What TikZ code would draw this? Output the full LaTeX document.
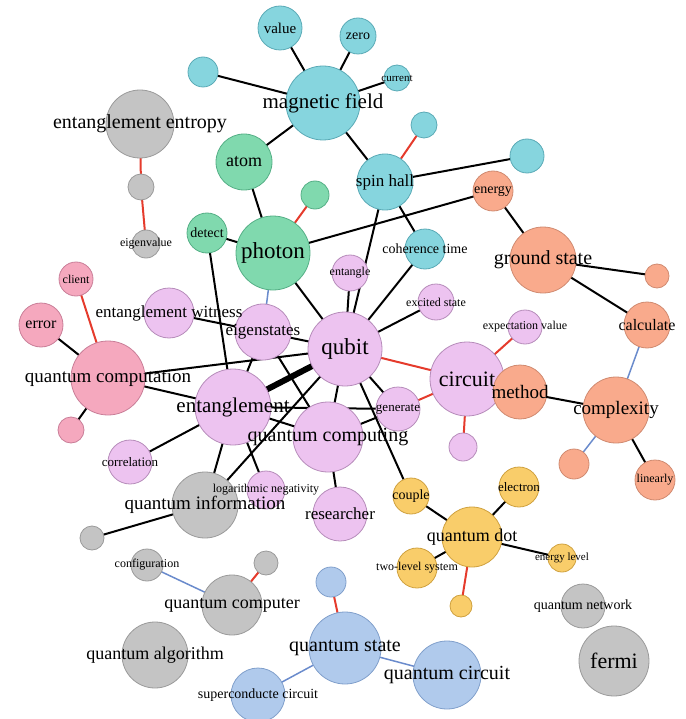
\documentclass[tikz,border=0pt]{standalone}
\usepackage{fontspec}
\setmainfont{Liberation Serif}
\usetikzlibrary{backgrounds}
\pgfdeclarelayer{fg}
\pgfsetlayers{background,main,fg}
\definecolor{cyF}{HTML}{86D5DE}\definecolor{cyD}{HTML}{5AAAB6}
\definecolor{grF}{HTML}{80D9AE}\definecolor{grD}{HTML}{55AF86}
\definecolor{orF}{HTML}{F9AA8C}\definecolor{orD}{HTML}{D08A70}
\definecolor{pkF}{HTML}{F5A8BE}\definecolor{pkD}{HTML}{C97E98}
\definecolor{viF}{HTML}{EDC3F0}\definecolor{viD}{HTML}{B68CBA}
\definecolor{gyF}{HTML}{C4C4C4}\definecolor{gyD}{HTML}{9A9A9A}
\definecolor{yeF}{HTML}{F9CD6A}\definecolor{yeD}{HTML}{CFA13F}
\definecolor{blF}{HTML}{B0CAEC}\definecolor{blD}{HTML}{809FCB}
\definecolor{redE}{HTML}{E53B2C}\definecolor{bluE}{HTML}{6A8BCC}
\tikzset{
 nd/.style={circle,inner sep=0pt,line width=0.8pt},
 cy/.style={nd,fill=cyF,draw=cyD}, gr/.style={nd,fill=grF,draw=grD},
 or/.style={nd,fill=orF,draw=orD}, pk/.style={nd,fill=pkF,draw=pkD},
 vi/.style={nd,fill=viF,draw=viD}, gy/.style={nd,fill=gyF,draw=gyD},
 ye/.style={nd,fill=yeF,draw=yeD}, bl/.style={nd,fill=blF,draw=blD},
 ed/.style={line width=2pt,black}, re/.style={line width=2pt,redE},
 be/.style={line width=1.5pt,bluE},
 lb/.style={inner sep=0pt,text=black}
}
\newcommand{\N}[7]{\node[#5,minimum size=#4*2pt] (#1) at (#2,#3) {};
 \begin{pgfonlayer}{fg}\node[lb,font=\fontsize{#7}{#7}\selectfont] (#1-t) at (#2,#3) {#6};\end{pgfonlayer}}
\begin{document}
\begin{tikzpicture}[x=1pt,y=-1pt]
\useasboundingbox (0,0) rectangle (685,719);
\N{value}{280}{28}{22}{cy}{value}{15}
\N{zero}{358}{36}{18}{cy}{zero}{14}
\N{c1}{203}{72}{15}{cy}{}{1}
\N{mf}{323}{103}{37}{cy}{magnetic field}{21}
\N{current}{397}{78}{13}{cy}{current}{11}
\N{c2}{424}{125}{13}{cy}{}{1}
\N{sh}{385}{182}{28}{cy}{spin hall}{17}
\N{c3}{527}{156}{17}{cy}{}{1}
\N{ct}{425}{249}{20}{cy}{coherence time}{14}
\N{atom}{244}{162}{28}{gr}{atom}{18}
\N{g1}{315}{195}{14}{gr}{}{1}
\N{detect}{207}{233}{20}{gr}{detect}{14}
\N{photon}{273}{253}{37}{gr}{photon}{23}
\N{energy}{493}{191}{20}{or}{energy}{14}
\N{gs}{543}{260}{33}{or}{ground state}{20}
\N{o1}{657}{276}{12}{or}{}{1}
\N{calc}{647}{325}{23}{or}{calculate}{16}
\N{cx}{616}{410}{33}{or}{complexity}{19}
\N{o2}{574}{464}{15}{or}{}{1}
\N{lin}{655}{480}{20}{or}{linearly}{12}
\N{client}{76}{279}{17}{pk}{client}{12}
\N{error}{41}{325}{22}{pk}{error}{16}
\N{qcn}{108}{378}{37}{pk}{quantum computation}{19}
\N{p1}{71}{430}{13}{pk}{}{1}
\N{ent}{350}{273}{18}{vi}{entangle}{12}
\N{ex}{436}{302}{18}{vi}{excited state}{12}
\N{ew}{169}{313}{25}{vi}{entanglement witness}{17}
\N{eig}{263}{332}{28}{vi}{eigenstates}{17}
\N{qubit}{345}{349}{37}{vi}{qubit}{23}
\N{expv}{525}{327}{17}{vi}{expectation value}{12}
\N{circ}{467}{379}{37}{vi}{circuit}{22}
\N{method}{520}{392}{27}{or}{method}{19}
\N{eg}{233}{407}{38}{vi}{entanglement}{21}
\N{gen}{398}{409}{22}{vi}{generate}{13}
\N{qcg}{328}{437}{35}{vi}{quantum computing}{20}
\N{v1}{463}{447}{14}{vi}{}{1}
\N{corr}{130}{462}{22}{vi}{correlation}{13}
\N{ln}{266}{490}{19}{vi}{logarithmic negativity}{12}
\N{res}{340}{514}{27}{vi}{researcher}{17}
\N{ee}{140}{124}{34}{gy}{entanglement entropy}{20}
\N{gr1}{141}{187}{13}{gy}{}{1}
\N{eigv}{146}{244}{14}{gy}{eigenvalue}{12}
\N{qi}{205}{505}{33}{gy}{quantum information}{19}
\N{gr2}{92}{538}{12}{gy}{}{1}
\N{conf}{147}{565}{16}{gy}{configuration}{12}
\N{gr3}{266}{563}{12}{gy}{}{1}
\N{qcr}{232}{605}{30}{gy}{quantum computer}{18}
\N{qa}{155}{655}{33}{gy}{quantum algorithm}{18}
\N{qn}{583}{606}{22}{gy}{quantum network}{14}
\N{fermi}{614}{661}{35}{gy}{fermi}{22}
\N{couple}{411}{496}{18}{ye}{couple}{14}
\N{elec}{519}{487}{20}{ye}{electron}{13}
\N{qd}{472}{537}{30}{ye}{quantum dot}{18}
\N{tls}{417}{568}{20}{ye}{two-level system}{12}
\N{el}{562}{558}{14}{ye}{energy level}{11}
\N{y1}{461}{606}{11}{ye}{}{1}
\N{b1}{331}{582}{15}{bl}{}{1}
\N{qs}{345}{648}{36}{bl}{quantum state}{20}
\N{qcc}{447}{675}{34}{bl}{quantum circuit}{20}
\N{sc}{258}{695}{27}{bl}{superconducte circuit}{14}
\begin{scope}[on background layer]
\foreach \a/\b in {mf/value,mf/zero,mf/c1,mf/current,mf/atom,mf/sh,sh/c3,sh/ct,sh/qubit,
 atom/photon,photon/detect,photon/energy,photon/qubit,energy/gs,gs/o1,gs/calc,cx/lin,cx/method,
 ct/qubit,qubit/ent,qubit/ex,detect/eg,qcn/error,qcn/p1,qcn/qubit,qcn/eg,ew/eig,eig/qubit,eig/eg,
 eig/qcg,qubit/gen,qubit/qcg,qubit/qi,qubit/couple,eg/gen,eg/corr,eg/qi,eg/ln,eg/qcg,qcg/res,gen/qcg,
 qi/gr2,couple/qd,elec/qd,qd/tls,qd/el}
 \draw[ed] (\a.center) -- (\b.center);
\draw[black,line width=6pt] (qubit.center) -- (eg.center);
\foreach \a/\b in {sh/c2,photon/g1,ee/gr1,gr1/eigv,client/qcn,qubit/circ,circ/expv,circ/method,circ/v1,circ/gen,qd/y1,qcr/gr3,b1/qs}
 \draw[re] (\a.center) -- (\b.center);
\foreach \a/\b in {photon/eig,calc/cx,cx/o2,qcr/conf,qs/sc,qs/qcc}
 \draw[be] (\a.center) -- (\b.center);
\end{scope}
\end{tikzpicture}
\end{document}
